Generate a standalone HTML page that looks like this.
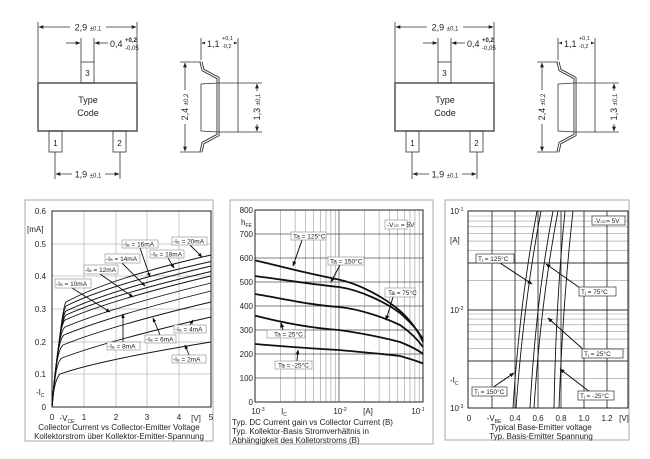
<!DOCTYPE html>
<html><head><meta charset="utf-8"><style>
html,body{margin:0;padding:0;background:#fff;}
svg{display:block;font-family:"Liberation Sans",sans-serif;}
</style></head><body>
<svg width="650" height="459" viewBox="0 0 650 459" xmlns="http://www.w3.org/2000/svg">
<defs>
<marker id="ar" viewBox="0 0 10 10" refX="9" refY="5" markerWidth="6" markerHeight="6" orient="auto-start-reverse"><path d="M0,1 L10,5 L0,9 z" fill="#222"/></marker>
<marker id="ar2" viewBox="0 0 10 10" refX="9" refY="5" markerWidth="5" markerHeight="5" orient="auto"><path d="M0,1 L10,5 L0,9 z" fill="#111"/></marker>
<g id="pkg" fill="none" stroke="#333" stroke-width="0.8">
  <line x1="38" y1="22" x2="38" y2="83"/><line x1="137" y1="22" x2="137" y2="83"/>
  <line x1="39" y1="27" x2="136" y2="27" marker-start="url(#ar)" marker-end="url(#ar)"/>
  <rect x="70" y="22" width="36" height="10" fill="#fff" stroke="none"/>
  <text x="88" y="30.5" font-size="9" fill="#222" stroke="none" text-anchor="middle">2,9 <tspan font-size="6">±0,1</tspan></text>
  <rect x="38" y="83" width="99" height="48" stroke-width="1.5" stroke="#555"/>
  <text x="88" y="103" font-size="9" fill="#222" stroke="none" text-anchor="middle">Type</text>
  <text x="88" y="116" font-size="9" fill="#222" stroke="none" text-anchor="middle">Code</text>
  <rect x="81" y="62" width="13" height="21"/>
  <text x="87.5" y="76" font-size="8" fill="#222" stroke="none" text-anchor="middle">3</text>
  <line x1="81" y1="38" x2="81" y2="62"/><line x1="94" y1="38" x2="94" y2="62"/>
  <line x1="66" y1="43" x2="80" y2="43" marker-end="url(#ar)"/>
  <line x1="108" y1="43" x2="95" y2="43" marker-end="url(#ar)"/>
  <text x="110" y="47" font-size="9" fill="#222" stroke="none">0,4</text>
  <text x="125" y="42" font-size="6" font-weight="bold" fill="#222" stroke="none">+0,2</text>
  <text x="125" y="50" font-size="6" fill="#222" stroke="none">-0,05</text>
  <rect x="49" y="131" width="13" height="21"/><rect x="113" y="131" width="13" height="21"/>
  <text x="55.5" y="146" font-size="8" fill="#222" stroke="none" text-anchor="middle">1</text>
  <text x="119.5" y="146" font-size="8" fill="#222" stroke="none" text-anchor="middle">2</text>
  <line x1="55" y1="152" x2="55" y2="179"/><line x1="120" y1="152" x2="120" y2="179"/>
  <line x1="56" y1="174" x2="119" y2="174" marker-start="url(#ar)" marker-end="url(#ar)"/>
  <rect x="72" y="169" width="33" height="10" fill="#fff" stroke="none"/>
  <text x="88" y="177.5" font-size="9" fill="#222" stroke="none" text-anchor="middle">1,9 <tspan font-size="6">±0,1</tspan></text>
  <path d="M201,62 L203,70 L218,78 L218,135 L203,143 L201,152" stroke="#333" stroke-width="3"/>
  <path d="M201,62 L203,70 L218,78 L218,135 L203,143 L201,152" stroke="#fff" stroke-width="1.2"/>
  <path d="M218,83 L201,84 L201,131 L218,132 M218,83 L238,83 L238,132 L218,132"/>
  <line x1="201" y1="38" x2="201" y2="60"/><line x1="238" y1="38" x2="238" y2="83"/>
  <line x1="202" y1="43" x2="237" y2="43" marker-start="url(#ar)" marker-end="url(#ar)"/>
  <rect x="205" y="36" width="29" height="14" fill="#fff" stroke="none"/>
  <text x="207" y="47" font-size="9" fill="#222" stroke="none">1,1</text>
  <text x="222" y="40" font-size="5.5" fill="#222" stroke="none">+0,1</text>
  <text x="222" y="48" font-size="5.5" fill="#222" stroke="none">-0,2</text>
  <line x1="180" y1="62" x2="201" y2="62"/><line x1="180" y1="152" x2="201" y2="152"/>
  <line x1="185" y1="63" x2="185" y2="151" marker-start="url(#ar)" marker-end="url(#ar)"/>
  <rect x="180" y="90" width="10" height="34" fill="#fff" stroke="none"/>
  <text transform="translate(188,107) rotate(-90)" font-size="9" fill="#222" stroke="none" text-anchor="middle">2,4 <tspan font-size="6">±0,2</tspan></text>
  <line x1="238" y1="83" x2="262" y2="83"/><line x1="238" y1="132" x2="262" y2="132"/>
  <line x1="257" y1="84" x2="257" y2="131" marker-start="url(#ar)" marker-end="url(#ar)"/>
  <rect x="252" y="91" width="10" height="33" fill="#fff" stroke="none"/>
  <text transform="translate(260,107) rotate(-90)" font-size="9" fill="#222" stroke="none" text-anchor="middle">1,3 <tspan font-size="6">±0,1</tspan></text>
</g>
</defs>
<use href="#pkg"/>
<use href="#pkg" transform="translate(357,0)"/>

<!-- PANEL 1 -->
<rect x="25" y="200" width="188" height="241" fill="none" stroke="#aaa" stroke-width="1"/>
<g stroke="#bbb" stroke-width="0.8">
<line x1="84" y1="211" x2="84" y2="407"/><line x1="116" y1="211" x2="116" y2="407"/><line x1="147" y1="211" x2="147" y2="407"/><line x1="179" y1="211" x2="179" y2="407"/>
<line x1="52" y1="244" x2="211" y2="244"/><line x1="52" y1="276" x2="211" y2="276"/><line x1="52" y1="309" x2="211" y2="309"/><line x1="52" y1="342" x2="211" y2="342"/><line x1="52" y1="374" x2="211" y2="374"/>
</g>
<rect x="52" y="211" width="159" height="196" fill="none" stroke="#222" stroke-width="1"/>
<g fill="none" stroke="#111" stroke-width="0.9">
<path d="M52,407 Q54,380 60,374 Q100,360 211,342"/>
<path d="M52,407 Q55,362 62,358 Q110,340 211,317"/>
<path d="M52,407 Q56,350 63,345 Q110,326 211,302"/>
<path d="M52,407 Q57,340 64,335 Q110,316 211,291"/>
<path d="M52,407 Q58,332 65,327 Q110,308 211,283"/>
<path d="M52,407 Q59,325 65,320 Q110,300 211,276"/>
<path d="M52,407 Q60,320 66,315 Q110,295 211,271.5"/>
<path d="M52,407 Q61,315 66,311 Q110,290 211,266"/>
<path d="M52,407 Q62,310 66,306 Q110,284 211,261.5"/>
<path d="M52,407 Q62,306 66,302 Q110,278 211,255"/>
</g>
<g stroke="#111" stroke-width="0.9" fill="none">
<line x1="190" y1="245" x2="202" y2="257" marker-end="url(#ar2)"/>
<line x1="140" y1="248" x2="150" y2="277" marker-end="url(#ar2)"/>
<line x1="168" y1="258" x2="174" y2="268" marker-end="url(#ar2)"/>
<line x1="122" y1="263" x2="145" y2="286" marker-end="url(#ar2)"/>
<line x1="100" y1="274" x2="133" y2="297" marker-end="url(#ar2)"/>
<line x1="72" y1="288" x2="110" y2="312" marker-end="url(#ar2)"/>
<line x1="123" y1="342" x2="123" y2="314" marker-end="url(#ar2)"/>
<line x1="160" y1="335" x2="153" y2="318" marker-end="url(#ar2)"/>
<line x1="190" y1="325" x2="193" y2="320" marker-end="url(#ar2)"/>
<line x1="189" y1="355" x2="185" y2="345" marker-end="url(#ar2)"/>
</g>
<g font-size="6.5" fill="#222">
<g fill="#fff" stroke="#888" stroke-width="0.6">
<rect x="172" y="237" width="35" height="8"/><rect x="122" y="240" width="36" height="8"/><rect x="150" y="250" width="34" height="8"/>
<rect x="105" y="254" width="35" height="9"/><rect x="84" y="265" width="34" height="9"/><rect x="55" y="279" width="36" height="9"/>
<rect x="107" y="342" width="33" height="8"/><rect x="145" y="335" width="31" height="8"/><rect x="174" y="325" width="32" height="8"/><rect x="172" y="355" width="34" height="8"/>
</g>
<text x="173" y="243.5">-I<tspan font-size="4">B</tspan> = 20mA</text>
<text x="123" y="246.5">-I<tspan font-size="4">B</tspan> = 16mA</text>
<text x="151" y="256.5">-I<tspan font-size="4">B</tspan> = 18mA</text>
<text x="106" y="261">-I<tspan font-size="4">B</tspan> = 14mA</text>
<text x="85" y="272">-I<tspan font-size="4">B</tspan> = 12mA</text>
<text x="56" y="286">-I<tspan font-size="4">B</tspan> = 10mA</text>
<text x="108" y="348.5">-I<tspan font-size="4">B</tspan> = 8mA</text>
<text x="146" y="341.5">-I<tspan font-size="4">B</tspan> = 6mA</text>
<text x="175" y="331.5">-I<tspan font-size="4">B</tspan> = 4mA</text>
<text x="173" y="361.5">-I<tspan font-size="4">B</tspan> = 2mA</text>
</g>
<g font-size="8" fill="#222" text-anchor="end">
<text x="46" y="214">0.6</text><text x="46" y="247">0.5</text><text x="46" y="279">0.4</text><text x="46" y="312">0.3</text><text x="46" y="345">0.2</text><text x="46" y="377">0.1</text><text x="46" y="410">0</text>
</g>
<text x="27" y="232" font-size="8" fill="#222">[mA]</text>
<text x="36" y="395" font-size="8" fill="#222">-I<tspan font-size="5" dy="2">C</tspan></text>
<g font-size="8" fill="#222" text-anchor="middle">
<text x="52" y="420">0</text><text x="84" y="420">1</text><text x="116" y="420">2</text><text x="147" y="420">3</text><text x="179" y="420">4</text><text x="211" y="420">5</text>
<text x="196" y="421">[V]</text>
<text x="67" y="421">-V<tspan font-size="5" dy="2">CE</tspan></text>
<text x="119" y="430">Collector Current vs Collector-Emitter Voltage</text>
<text x="119" y="439">Kollektorstrom über Kollektor-Emitter-Spannung</text>
</g>

<!-- PANEL 2 -->
<rect x="230" y="200" width="203" height="244" fill="none" stroke="#aaa" stroke-width="1"/>
<g stroke="#999" stroke-width="0.6">
<line x1="280.3" y1="210" x2="280.3" y2="402"/><line x1="295.1" y1="210" x2="295.1" y2="402"/><line x1="305.6" y1="210" x2="305.6" y2="402"/><line x1="313.7" y1="210" x2="313.7" y2="402"/><line x1="320.4" y1="210" x2="320.4" y2="402"/><line x1="326" y1="210" x2="326" y2="402"/><line x1="330.9" y1="210" x2="330.9" y2="402"/><line x1="335.2" y1="210" x2="335.2" y2="402"/>
<line x1="364.3" y1="210" x2="364.3" y2="402"/><line x1="379.1" y1="210" x2="379.1" y2="402"/><line x1="389.6" y1="210" x2="389.6" y2="402"/><line x1="397.7" y1="210" x2="397.7" y2="402"/><line x1="404.4" y1="210" x2="404.4" y2="402"/><line x1="410" y1="210" x2="410" y2="402"/><line x1="414.9" y1="210" x2="414.9" y2="402"/><line x1="419.2" y1="210" x2="419.2" y2="402"/>
</g>
<g stroke="#555" stroke-width="0.8">
<line x1="339" y1="210" x2="339" y2="402"/>
<line x1="255" y1="234" x2="423" y2="234"/><line x1="255" y1="258" x2="423" y2="258"/><line x1="255" y1="282" x2="423" y2="282"/><line x1="255" y1="306" x2="423" y2="306"/><line x1="255" y1="330" x2="423" y2="330"/><line x1="255" y1="354" x2="423" y2="354"/><line x1="255" y1="378" x2="423" y2="378"/>
</g>
<rect x="255" y="210" width="168" height="192" fill="none" stroke="#222" stroke-width="1"/>
<g fill="none" stroke="#111" stroke-width="1.8">
<path d="M255,260.4 C280,266 300,272 339,279.6 C360,284 385,298 400,310.8 C410,320 418,330 423,342"/>
<path d="M255,276 C285,280 310,284 339,287 C360,290 385,302 400,313 C410,322 418,330 423,339.6"/>
<path d="M255,294 C285,299 310,305 339,307 C360,309 385,318 400,325 C410,332 418,340 423,347"/>
<path d="M255,315.6 C280,322 310,328 339,330 C360,333 385,338 400,342 C410,346 418,350 423,354"/>
<path d="M255,344 C290,347 320,349 339,350 C360,352 385,354 400,356 C410,359 418,361 423,363.6"/>
</g>
<g stroke="#111" stroke-width="1" fill="none">
<line x1="302" y1="240" x2="293" y2="266" marker-end="url(#ar2)"/>
<line x1="340" y1="265" x2="331" y2="282" marker-end="url(#ar2)"/>
<line x1="393" y1="297" x2="386" y2="320" marker-end="url(#ar2)"/>
<line x1="283" y1="330" x2="281" y2="323" marker-end="url(#ar2)"/>
<line x1="297" y1="361" x2="298" y2="350" marker-end="url(#ar2)"/>
</g>
<g fill="#fff" stroke="#888" stroke-width="0.6">
<rect x="385" y="220" width="22" height="9"/><rect x="291" y="232" width="35" height="8"/><rect x="328" y="257" width="36" height="8"/><rect x="385" y="288" width="30" height="9"/><rect x="267" y="330" width="38" height="8"/><rect x="275" y="361" width="37" height="8"/>
</g>
<g font-size="6.5" fill="#222">
<text x="387" y="227">-V<tspan font-size="4">CE</tspan> = 5V</text>
<text x="293" y="238.5">Ta = 125°C</text>
<text x="330" y="263.5">Ta = 150°C</text>
<text x="388" y="295">Ta = 75°C</text>
<text x="274" y="336.5">Ta = 25°C</text>
<text x="278" y="367.5">Ta = -25°C</text>
</g>
<g font-size="8" fill="#222" text-anchor="end">
<text x="253" y="213">800</text><text x="253" y="237">700</text><text x="253" y="261">600</text><text x="253" y="285">500</text><text x="253" y="309">400</text><text x="253" y="333">300</text><text x="253" y="357">200</text><text x="253" y="381">100</text><text x="253" y="405">0</text>
</g>
<text x="241" y="225" font-size="8" fill="#222">h<tspan font-size="5" dy="2">FE</tspan></text>
<g font-size="8" fill="#222" text-anchor="middle">
<text x="258" y="414">10<tspan font-size="5" dy="-3">-3</tspan></text>
<text x="284" y="414">I<tspan font-size="5" dy="2">C</tspan></text>
<text x="340" y="414">10<tspan font-size="5" dy="-3">-2</tspan></text>
<text x="368" y="414">[A]</text>
<text x="418" y="414">10<tspan font-size="5" dy="-3">-1</tspan></text>
</g>
<g font-size="8" fill="#222">
<text x="232" y="425">Typ. DC Current gain vs Collector Current (B)</text>
<text x="232" y="434">Typ. Kollektor-Basis Stromverhältnis in</text>
<text x="232" y="443">Abhängigkeit des Kolletorstroms (B)</text>
</g>

<!-- PANEL 3 -->
<rect x="445" y="200" width="184" height="240" fill="none" stroke="#aaa" stroke-width="1"/>
<g stroke="#999" stroke-width="0.6">
<line x1="468" y1="378.4" x2="628" y2="378.4"/><line x1="468" y1="348.7" x2="628" y2="348.7"/><line x1="468" y1="339.1" x2="628" y2="339.1"/><line x1="468" y1="331.4" x2="628" y2="331.4"/><line x1="468" y1="324.8" x2="628" y2="324.8"/><line x1="468" y1="319.1" x2="628" y2="319.1"/><line x1="468" y1="314" x2="628" y2="314"/>
<line x1="468" y1="280.4" x2="628" y2="280.4"/><line x1="468" y1="250.7" x2="628" y2="250.7"/><line x1="468" y1="241.1" x2="628" y2="241.1"/><line x1="468" y1="233.4" x2="628" y2="233.4"/><line x1="468" y1="226.8" x2="628" y2="226.8"/><line x1="468" y1="221.1" x2="628" y2="221.1"/><line x1="468" y1="216" x2="628" y2="216"/>
</g>
<g stroke="#333" stroke-width="0.9">
<line x1="468" y1="361" x2="628" y2="361"/><line x1="468" y1="263" x2="628" y2="263"/><line x1="468" y1="310" x2="628" y2="310"/>
<line x1="492" y1="211" x2="492" y2="408"/><line x1="515" y1="211" x2="515" y2="408"/><line x1="538" y1="211" x2="538" y2="408"/><line x1="561" y1="211" x2="561" y2="408"/><line x1="584" y1="211" x2="584" y2="408"/><line x1="607" y1="211" x2="607" y2="408"/>
</g>
<rect x="468" y="211" width="160" height="197" fill="none" stroke="#222" stroke-width="1"/>
<g fill="none" stroke="#111" stroke-width="0.9">
<path d="M513,408 Q520,300 537,211"/>
<path d="M516,408 Q524,300 541,211"/>
<path d="M530,408 Q536,300 553,211"/>
<path d="M534,408 Q541,300 558,211"/>
<path d="M554,408 Q556,300 565,211"/>
<path d="M559,408 Q563,300 573,211"/>
</g>
<g stroke="#111" stroke-width="1" fill="none">
<line x1="500" y1="263" x2="532" y2="284" marker-end="url(#ar2)"/>
<line x1="580" y1="288" x2="546" y2="264" marker-end="url(#ar2)"/>
<line x1="585" y1="351" x2="548" y2="318" marker-end="url(#ar2)"/>
<line x1="492" y1="388" x2="514" y2="373" marker-end="url(#ar2)"/>
<line x1="590" y1="392" x2="560" y2="369" marker-end="url(#ar2)"/>
</g>
<g fill="#fff" stroke="#333" stroke-width="0.7">
<rect x="592" y="216" width="33" height="9"/><rect x="476" y="254" width="38" height="9"/><rect x="579" y="287" width="37" height="9"/><rect x="582" y="349" width="41" height="9"/><rect x="472" y="387" width="35" height="9"/><rect x="578" y="391" width="36" height="9"/>
</g>
<g font-size="6.5" fill="#222">
<text x="594" y="223">-V<tspan font-size="4">CE</tspan>= 5V</text>
<text x="478" y="261">T<tspan font-size="4">j</tspan> =  125°C</text>
<text x="581" y="294">T<tspan font-size="4">j</tspan> = 75°C</text>
<text x="584" y="356">T<tspan font-size="4">j</tspan> =  25°C</text>
<text x="474" y="394">T<tspan font-size="4">j</tspan> = 150°C</text>
<text x="580" y="398">T<tspan font-size="4">j</tspan> = -25°C</text>
</g>
<g font-size="8" fill="#222">
<text x="450" y="214">10<tspan font-size="5" dy="-3">-1</tspan></text>
<text x="450" y="243">[A]</text>
<text x="450" y="313">10<tspan font-size="5" dy="-3">-2</tspan></text>
<text x="450" y="383">-I<tspan font-size="5" dy="2">C</tspan></text>
<text x="450" y="411">10<tspan font-size="5" dy="-3">-3</tspan></text>
</g>
<g font-size="8" fill="#222" text-anchor="middle">
<text x="469" y="421">0</text><text x="494" y="421">-V<tspan font-size="5" dy="2">BE</tspan></text><text x="515" y="421">0.4</text><text x="538" y="421">0.6</text><text x="561" y="421">0.8</text><text x="584" y="421">1.0</text><text x="607" y="421">1.2</text><text x="624" y="421">[V]</text>
<text x="541" y="430">Typical Base-Emitter voltage</text>
<text x="541" y="439">Typ. Basis-Emitter Spannung</text>
</g>
</svg>
</body></html>
